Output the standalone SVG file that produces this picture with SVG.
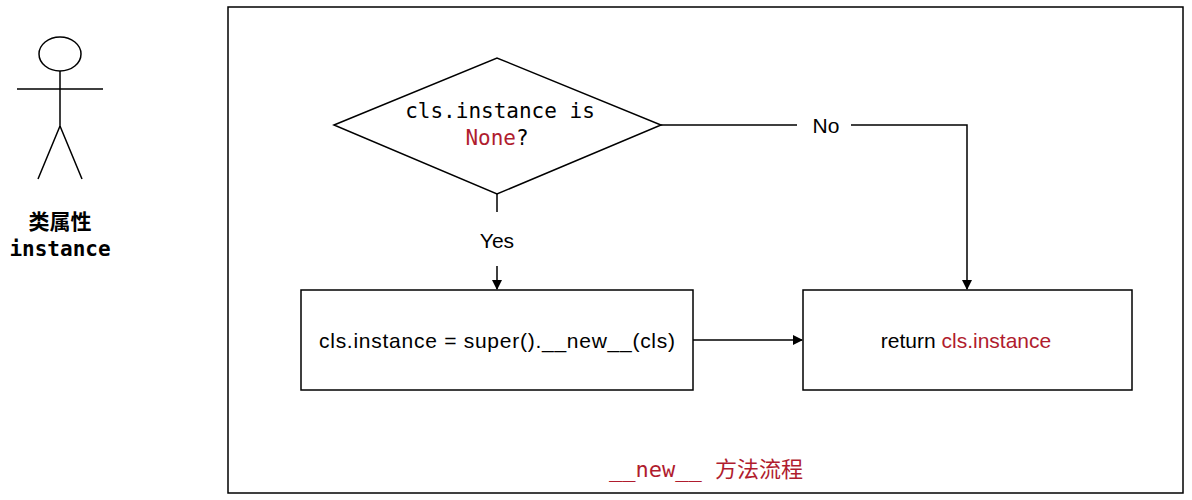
<svg xmlns="http://www.w3.org/2000/svg" width="1192" height="500" viewBox="0 0 1192 500">
<style>
.s{fill:none;stroke:#000;stroke-width:1.5}
.b{fill:#fff;stroke:#000;stroke-width:1.5}
.t{font-family:"Liberation Sans","Noto Sans CJK SC",sans-serif;font-size:21px;fill:#000}
.m{font-family:"DejaVu Sans Mono","Noto Sans CJK SC",monospace;font-size:21px;fill:#000}
.r{fill:#b01c2e}
</style>
<defs><marker id="a" markerWidth="10" markerHeight="10" refX="9" refY="5" orient="auto" markerUnits="userSpaceOnUse"><path d="M0,0 L10,5 L0,10 z" fill="#000"/></marker></defs>
<g id="actor">
<ellipse cx="60" cy="54" rx="21" ry="17" class="b"/>
<path class="s" d="M60,71 V126 M17,89 H103 M60,126 L38,179 M60,126 L82,179"/>
<text x="60" y="229" text-anchor="middle" class="m" style="font-weight:bold">类属性</text>
<text x="60" y="256" text-anchor="middle" class="m" style="font-weight:bold">instance</text>
</g>
<g id="frame">
<rect x="228" y="7" width="955" height="486" class="b"/>
<text x="706" y="477" text-anchor="middle" class="t r" style="font-family:'DejaVu Sans Mono','Noto Sans CJK SC',monospace;font-size:22px">__new__ 方法流程</text>
</g>
<g id="decision">
<polygon points="334,125 497,58 661,125 497,194" class="b"/>
<text x="500" y="118" text-anchor="middle" class="m">cls.instance is</text>
<text x="497" y="145" text-anchor="middle" class="m"><tspan class="r">None</tspan>?</text>
</g>
<g id="create">
<rect x="301" y="290" width="392" height="100" class="b"/>
<text x="497" y="348" text-anchor="middle" class="t" textLength="356">cls.instance = super().__new__(cls)</text>
</g>
<g id="ret">
<rect x="803" y="290" width="329" height="100" class="b"/>
<text x="966" y="348" text-anchor="middle" class="t">return <tspan class="r">cls.instance</tspan></text>
</g>
<g id="connectors">
<path class="s" d="M661,125 H797 M851,125 H967 V289" marker-end="url(#a)"/>
<text x="826" y="133" text-anchor="middle" class="t">No</text>
<path class="s" d="M497,194 V212 M497,266 V289" marker-end="url(#a)"/>
<text x="497" y="248" text-anchor="middle" class="t">Yes</text>
<path class="s" d="M693,340 H802" marker-end="url(#a)"/>
</g>
</svg>
